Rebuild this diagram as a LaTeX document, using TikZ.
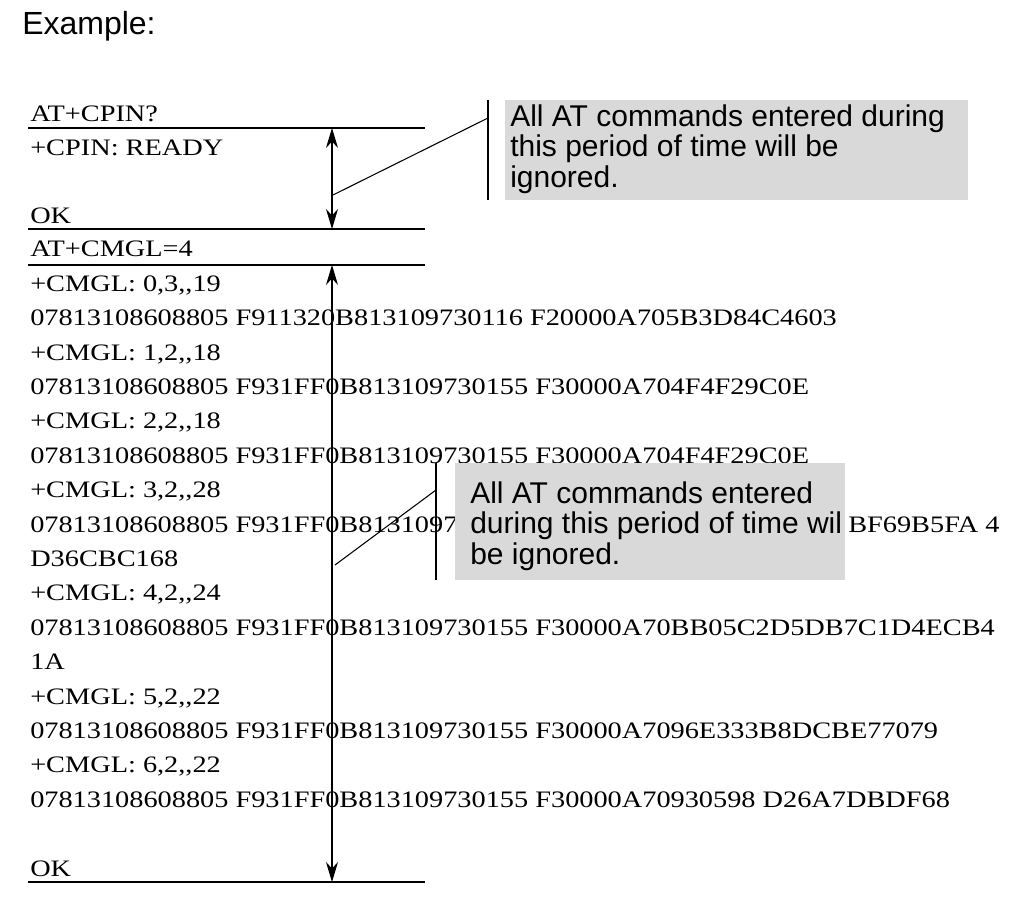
\documentclass[tikz,border=0pt]{standalone}
\usepackage{fontspec}
\usepackage{graphicx}
\setmainfont{Liberation Serif}
\newfontfamily\arialf{Liberation Sans}
\usetikzlibrary{arrows.meta}
\definecolor{boxgray}{HTML}{D9D9D9}
\newcommand{\wide}[1]{\scalebox{1.2}[1]{#1}}
\begin{document}
\begin{tikzpicture}[x=0.75pt,y=-0.75pt,
  row/.style={anchor=base west,inner sep=0pt,font=\fontsize{17.7}{19}\selectfont},
  rule/.style={line width=0.8pt},
  dbl/.style={line width=0.8pt,{Stealth[length=15pt,width=9pt]}-{Stealth[length=15pt,width=9pt]}},
  callbox/.style={fill=boxgray,inner sep=0pt},
  calltxt/.style={anchor=north west,align=left,inner sep=0pt,font=\arialf\fontsize{22.5}{23}\selectfont}]
\useasboundingbox (0,0) rectangle (1033,905);
\node[anchor=base west,inner sep=0pt,font=\arialf\fontsize{24}{26}\selectfont] (ex) at (22,35) {Example:};
% rows
\node[row] (r0) at (30,122) {\wide{AT+CPIN?}};
\node[row] (r1) at (30,156) {\wide{+CPIN: READY}};
\node[row] (r2) at (30,224) {\wide{OK}};
\node[row] (r3) at (30,257) {\wide{AT+CMGL=4}};
\foreach \t [count=\i] in {
 {+CMGL: 0,3,{},19},
 {07813108608805 F911320B813109730116 F20000A705B3D84C4603},
 {+CMGL: 1,2,{},18},
 {07813108608805 F931FF0B813109730155 F30000A704F4F29C0E},
 {+CMGL: 2,2,{},18},
 {07813108608805 F931FF0B813109730155 F30000A704F4F29C0E},
 {+CMGL: 3,2,{},28},
 {07813108608805 F931FF0B8131097},
 {D36CBC168},
 {+CMGL: 4,2,{},24},
 {07813108608805 F931FF0B813109730155 F30000A70BB05C2D5DB7C1D4ECB4},
 {1A},
 {+CMGL: 5,2,{},22},
 {07813108608805 F931FF0B813109730155 F30000A7096E333B8DCBE77079},
 {+CMGL: 6,2,{},22},
 {07813108608805 F931FF0B813109730155 F30000A70930598 D26A7DBDF68}}
 {\node[row] (t\i) at (30,{257+34.4*\i}) {\wide{\t}};}
\node[row] (r4) at (30,876) {\wide{OK}};
% rules
\foreach \y/\n in {128/a,229/b,265/c,882/d}{
  \coordinate (\n1) at (28,\y); \coordinate (\n2) at (425,\y);
  \draw[rule] (\n1) -- (\n2);}
% arrows
\coordinate (A1) at (332,128); \coordinate (A2) at (332,229);
\draw[dbl] (A1) -- (A2);
\coordinate (B1) at (332,265); \coordinate (B2) at (332,882);
\draw[dbl] (B1) -- (B2);
% callout 1
\node[callbox,minimum width=463*0.75pt,minimum height=100*0.75pt,anchor=north west] (cb1) at (505,100) {};
\node[calltxt] (ct1) at (510,104) {All AT commands entered during\\this period of time will be\\ignored.};
\coordinate (v1a) at (488,100); \coordinate (v1b) at (488,200);
\draw[rule] (v1a) -- (v1b);
\coordinate (d1a) at (333,195); \coordinate (d1b) at (488,118);
\draw[rule] (d1a) -- (d1b);
% callout 2
\node[callbox,minimum width=390*0.75pt,minimum height=117*0.75pt,anchor=north west] (cb2) at (455,463) {};
\node[calltxt] (ct2) at (470,481) {All AT commands entered\\during this period of time wil\\be ignored.};
\node[row] (tx2) at (848,533) {\wide{BF69B5FA 4}};
\coordinate (v2a) at (436,463); \coordinate (v2b) at (436,580);
\draw[rule] (v2a) -- (v2b);
\coordinate (d2a) at (335,565); \coordinate (d2b) at (436,490);
\draw[rule] (d2a) -- (d2b);
\end{tikzpicture}
\end{document}
